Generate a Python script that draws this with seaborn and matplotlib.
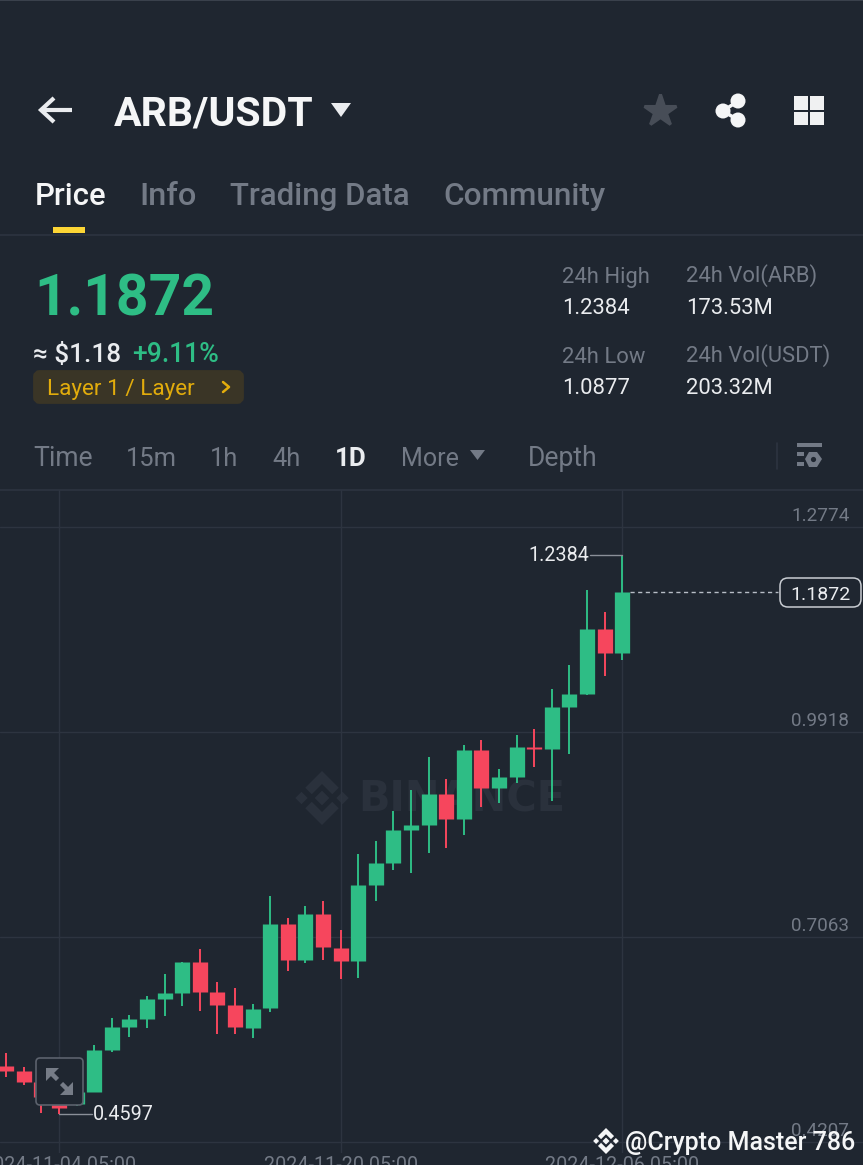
import numpy as np
import pandas as pd
import seaborn as sns
import matplotlib
matplotlib.use("Agg")
import matplotlib.pyplot as plt
from matplotlib.patches import FancyBboxPatch, Polygon, Circle, Rectangle
from matplotlib.transforms import ScaledTranslation

# ---------- data ----------
days = list(range(-3, 33))
opens = [0.5272, 0.5194, 0.5049, 0.4836, 0.4738, 0.4910, 0.5490, 0.5810, 0.5918, 0.6200,
         0.6288, 0.6712, 0.6302, 0.6117, 0.5801, 0.6071, 0.7249, 0.6744, 0.7384, 0.6915,
         0.6726, 0.7788, 0.8099, 0.8558, 0.8628, 0.9051, 0.8707, 0.9672, 0.9144, 0.9296,
         0.9714, 0.9686, 1.0267, 1.0448, 1.1353, 1.1023]
closes = [0.5198, 0.5049, 0.4831, 0.4682, 0.4910, 0.5486, 0.5810, 0.5918, 0.6196, 0.6284,
          0.6716, 0.6302, 0.6121, 0.5806, 0.6065, 0.7249, 0.6744, 0.7384, 0.6925, 0.6726,
          0.7788, 0.8090, 0.8550, 0.8620, 0.9051, 0.8707, 0.9672, 0.9139, 0.9296, 0.9710,
          0.9686, 1.0267, 1.0448, 1.1353, 1.1023, 1.1872]
highs = [0.5444, 0.5249, 0.5100, 0.4905, 0.4961, 0.5564, 0.5932, 0.5982, 0.6246, 0.6553,
         0.6720, 0.6893, 0.6441, 0.6358, 0.6131, 0.7639, 0.7324, 0.7496, 0.7561, 0.7161,
         0.8220, 0.8405, 0.8823, 0.9111, 0.9567, 0.9269, 0.9738, 0.9803, 0.9404, 0.9873,
         0.9965, 1.0522, 1.0856, 1.1892, 1.1594, 1.2384]
lows = [0.5110, 0.5007, 0.4609, 0.4597, 0.4710, 0.4905, 0.5458, 0.5667, 0.5792, 0.5959,
        0.6103, 0.6033, 0.5713, 0.5717, 0.5662, 0.6019, 0.6595, 0.6706, 0.6744, 0.6483,
        0.6493, 0.7565, 0.7997, 0.7959, 0.8230, 0.8299, 0.8484, 0.8879, 0.8934, 0.9205,
        0.9436, 0.8962, 0.9617, 1.0438, 1.0699, 1.0922]
price_ticks = [1.2774, 0.9918, 0.7063, 0.4207]
date_ticks = [0, 16, 32]
date_labels = ["2024-11-04 05:00", "2024-11-20 05:00", "2024-12-06 05:00"]
last_price = 1.1872
high_price = 1.2384
low_price = 0.4597

# ---------- palette ----------
BG = "#1F2630"
GRID = "#2D3440"
GREEN = "#2EBD85"
RED = "#F6465D"
MUTED = "#737A86"
LIGHT = "#EAECEF"
WM = "#2A313C"

sns.set_theme(style="dark", rc={"figure.facecolor": BG, "axes.facecolor": BG})
plt.rcParams["font.family"] = ["Roboto", "DejaVu Sans"]

W, H = 863, 1165
fig = plt.figure(figsize=(W / 100, H / 100), dpi=100, facecolor=BG)


def full_axes(z):
    a = fig.add_axes([0, 0, 1, 1], zorder=z)
    a.set_xlim(0, W)
    a.set_ylim(H, 0)
    a.axis("off")
    a.patch.set_alpha(0)
    return a


back = full_axes(0)
ax = fig.add_axes([0, (H - 1153) / H, 1, (1153 - 490) / H], zorder=1)
ui = full_axes(2)


def T(a, x, y, s, px, color, weight="normal", ha="left", **kw):
    return a.text(x, y, s, fontsize=px * 0.72, color=color, fontweight=weight,
                  ha=ha, va="baseline", **kw)


def logo(a, cx, cy, r, color):
    pts = lambda L: [(cx + p * r, cy + q * r) for p, q in L]
    d = 0.23
    for ox, oy, s in [(0, 0, 0.27), (-0.76, 0, d), (0.76, 0, d)]:
        a.add_patch(Polygon(pts([(ox - s, oy), (ox, oy - s), (ox + s, oy), (ox, oy + s)]),
                            fc=color, ec="none"))
    top = [(0, -1), (0.62, -0.38), (0.38, -0.14), (0, -0.52), (-0.38, -0.14), (-0.62, -0.38)]
    a.add_patch(Polygon(pts(top), fc=color, ec="none"))
    a.add_patch(Polygon(pts([(p, -q) for p, q in top]), fc=color, ec="none"))


# ---------- candles ----------
df = pd.DataFrame({"day": days, "open": opens, "close": closes, "high": highs, "low": lows})
df["dir"] = np.where(df["close"] >= df["open"], "up", "down")
palette = {"up": GREEN, "down": RED}
wicks = df.melt(id_vars=["day", "dir"], value_vars=["high", "low"], value_name="price")
bodies = df.melt(id_vars=["day", "dir"], value_vars=["open", "close"], value_name="price")
sns.lineplot(data=wicks, x="day", y="price", units="day", hue="dir", palette=palette,
             estimator=None, linewidth=1.4, legend=False, ax=ax, solid_capstyle="butt")
sns.lineplot(data=bodies, x="day", y="price", units="day", hue="dir", palette=palette,
             estimator=None, linewidth=11.0, legend=False, ax=ax, solid_capstyle="butt")

ax.set_xlim(-59 / 17.6, (W - 59) / 17.6)
k = 0.2855 / 205
ax.set_ylim(1.2774 - (1153 - 527) * k, 1.2774 + (527 - 490) * k)
ax.patch.set_alpha(0)
ax.set_xlabel("")
ax.set_ylabel("")
for s in ax.spines.values():
    s.set_visible(False)
ax.set_xticks(date_ticks, date_labels)
ax.set_yticks(price_ticks, [f"{v:.4f}" for v in price_ticks])
ax.grid(True, color=GRID, linewidth=1.0)
ax.set_axisbelow(True)
ax.tick_params(axis="x", length=0, pad=2.5, labelsize=14.2, labelcolor=MUTED)
ax.tick_params(axis="y", length=0, left=False, labelleft=False, labelright=True,
               pad=-51.5, labelsize=13.6, labelcolor=MUTED)
shift = ScaledTranslation(0, 13 / 100, fig.dpi_scale_trans)
for lab in ax.get_yticklabels():
    lab.set_transform(lab.get_transform() + shift)

# price annotations
ax.plot([32 - 1.85, 32], [high_price, high_price], color="#8A8F98", lw=1.0)
ax.annotate(f"{high_price:.4f}", (32 - 1.88, high_price), ha="right", va="center",
            fontsize=14.2, color=LIGHT)
ax.plot([0, 1.85], [low_price, low_price], color="#8A8F98", lw=1.0)
ax.annotate(f"{low_price:.4f}", (1.92, low_price), ha="left", va="center",
            fontsize=14.2, color=LIGHT)
ax.plot([32.45, 40.85], [last_price, last_price], color="#B7BDC6", lw=1.0, ls=(0, (3, 2.5)))

# ---------- watermark (behind the candles) ----------
logo(back, 322, 798, 27, WM)
back.text(358, 812, "BINANCE", fontsize=41.5 * 0.72, color=WM, fontweight="bold",
          family="DejaVu Sans", ha="left", va="baseline")

# ---------- header ----------
ui.add_patch(Rectangle((0, 0), W, 1, fc="#3A414C", ec="none"))
ui.plot([41, 72], [110, 110], color=LIGHT, lw=3, solid_capstyle="butt")
ui.plot([54, 41, 54], [98, 110, 122], color=LIGHT, lw=3, solid_joinstyle="miter", solid_capstyle="butt")
T(ui, 114, 126, "ARB/USDT", 41, "#F5F6F7", "bold")
ui.add_patch(Polygon([(331, 103), (351, 103), (341, 117)], fc=LIGHT, ec="none"))
ui.plot([660], [111], marker="*", ms=24, color="#474D57", mec="#474D57", mew=2.2)
for cx, cy in [(738, 101), (723, 111), (738, 120)]:
    ui.add_patch(Circle((cx, cy), 7.5, fc="#F5F6F7", ec="none"))
ui.plot([738, 723, 738], [101, 111, 120], color="#F5F6F7", lw=2.5)
for x0, y0, h in [(794, 96, 14), (810, 96, 14), (794, 112, 13), (810, 112, 13)]:
    ui.add_patch(Rectangle((x0, y0), 13.5, h, fc="#F0F1F2", ec="none"))

# tabs
T(ui, 35, 205, "Price", 31, "#F5F6F7", "500")
T(ui, 139, 205, "Info", 32.5, MUTED, "500")
T(ui, 230, 205, "Trading Data", 31.3, MUTED, "500")
T(ui, 443, 205, "Community", 31.5, MUTED, "500")
ui.add_patch(Rectangle((53, 227), 32, 6, fc="#FCD535", ec="none"))
ui.plot([0, W], [234.5, 234.5], color=GRID, lw=1.2)

# price block
T(ui, 34, 316, "1.1872", 57, GREEN, "bold")
T(ui, 33, 362, "≈ $1.18", 26, LIGHT, "500")
T(ui, 132, 362, "+9.11%", 26.5, GREEN, "500")
ui.add_patch(FancyBboxPatch((39, 376), 199, 22, boxstyle="round,pad=0,rounding_size=1",
                            fc="#3A3526", ec="#3A3526", lw=8.5))
T(ui, 47, 395, "Layer 1 / Layer", 22.5, "#E2AC0C", "normal")
ui.plot([223, 229, 223], [382, 387, 392], color="#E2AC0C", lw=1.8)

for x, y, s, c in [(562, 283, "24h High", MUTED), (686, 282, "24h Vol(ARB)", MUTED),
                   (562, 314, "1.2384", LIGHT), (686, 314, "173.53M", LIGHT),
                   (562, 363, "24h Low", MUTED), (686, 362, "24h Vol(USDT)", MUTED),
                   (562, 394, "1.0877", LIGHT), (686, 394, "203.32M", LIGHT)]:
    T(ui, x, y, s, 22, c)

# interval row
for x, s, px in [(33, "Time", 26.5), (126, "15m", 25.5), (210, "1h", 25.5), (272, "4h", 25.5),
                 (401, "More", 25), (528, "Depth", 26.5)]:
    T(ui, x, 466, s, px, MUTED)
T(ui, 335, 466, "1D", 26, LIGHT, "bold")
ui.add_patch(Polygon([(470, 450), (485, 450), (477.5, 460)], fc=MUTED, ec="none"))
ui.plot([777, 777], [443, 469], color=GRID, lw=1.2)
ui.add_patch(Rectangle((797, 443), 25, 3.5, fc=MUTED, ec="none"))
ui.add_patch(Rectangle((797, 452), 7, 4, fc=MUTED, ec="none"))
ui.add_patch(Rectangle((797, 462), 7, 4, fc=MUTED, ec="none"))
ui.add_patch(Polygon([(809, 452), (817, 452), (822, 459), (817, 467), (809, 467), (805, 459)],
                     fc=MUTED, ec="none"))
ui.add_patch(Circle((813.5, 459.5), 2.6, fc=BG, ec="none"))
ui.plot([0, W], [489.5, 489.5], color=GRID, lw=1.2)

# last price pill
ui.add_patch(FancyBboxPatch((780, 578), 81, 29, boxstyle="round,pad=0,rounding_size=8",
                            fc=BG, ec="#C9CDD3", lw=1.1))
T(ui, 820.5, 599.5, f"{last_price:.4f}", 19.5, LIGHT, ha="center")

# expand button
ui.add_patch(FancyBboxPatch((36, 1058), 47, 47, boxstyle="round,pad=0,rounding_size=4",
                            fc=BG, ec="#5C626D", lw=1.2))
ICON = "#767C87"
ui.add_patch(Polygon([(46, 1068), (59, 1068), (46, 1081)], fc=ICON, ec="none"))
ui.add_patch(Polygon([(73, 1095), (60, 1095), (73, 1082)], fc=ICON, ec="none"))
ui.plot([49, 57.5], [1071, 1079.5], color=ICON, lw=3.2, solid_capstyle="butt")
ui.plot([61.5, 70], [1083.5, 1092], color=ICON, lw=3.2, solid_capstyle="butt")

# credit
logo(ui, 606, 1141, 13, "#F5F6F7")
T(ui, 625, 1150, "@Crypto Master 786", 25, "#F5F6F7", "500")

fig.savefig("out.png", dpi=100, facecolor=BG)
